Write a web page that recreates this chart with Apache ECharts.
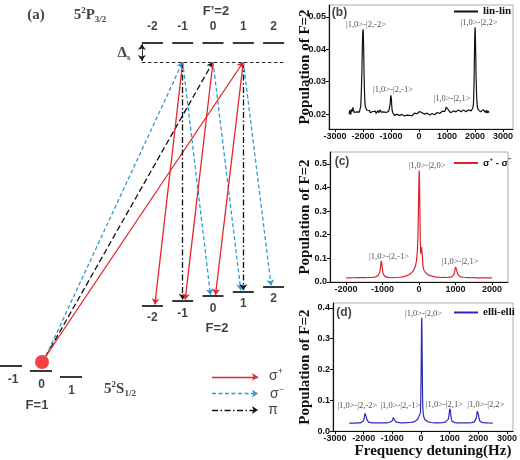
<!DOCTYPE html>
<html><head><meta charset="utf-8">
<script src="https://cdn.jsdelivr.net/npm/echarts@6/dist/echarts.min.js"></script>
<style>html,body{margin:0;padding:0;background:#fff}#c{width:520px;height:460px}</style>
</head><body><div id="c"></div>
<script>
// ---------------- DATA ----------------
// (b) lin-lin : [frequency detuning (Hz), population of F=2]
const linLin = [[-2500,0.0200],[-2470,0.0212],[-2440,0.0198],[-2410,0.0215],[-2380,0.0208],[-2360,0.0221],[-2340,0.0213],[-2310,0.0205],[-2280,0.0210],[-2250,0.0202],[-2220,0.0207],[-2190,0.0203],[-2160,0.0209],[-2130,0.0206],[-2100,0.0212],[-2080,0.0225],[-2060,0.0265],[-2040,0.0330],[-2025,0.0400],[-2012,0.0445],[-2000,0.0462],[-1990,0.0455],[-1978,0.0410],[-1965,0.0340],[-1950,0.0280],[-1935,0.0240],[-1915,0.0222],[-1890,0.0218],[-1860,0.0212],[-1830,0.0216],[-1800,0.0207],[-1770,0.0211],[-1740,0.0204],[-1710,0.0209],[-1680,0.0203],[-1650,0.0208],[-1620,0.0212],[-1590,0.0205],[-1560,0.0209],[-1530,0.0202],[-1500,0.0207],[-1470,0.0211],[-1440,0.0204],[-1410,0.0208],[-1380,0.0213],[-1350,0.0206],[-1320,0.0210],[-1290,0.0203],[-1260,0.0207],[-1230,0.0202],[-1200,0.0208],[-1170,0.0205],[-1140,0.0210],[-1110,0.0204],[-1080,0.0209],[-1055,0.0215],[-1035,0.0228],[-1020,0.0245],[-1008,0.0258],[-998,0.0262],[-988,0.0250],[-975,0.0228],[-960,0.0212],[-940,0.0205],[-910,0.0200],[-880,0.0196],[-850,0.0201],[-820,0.0195],[-790,0.0199],[-760,0.0194],[-730,0.0200],[-700,0.0196],[-670,0.0198],[-640,0.0193],[-610,0.0199],[-580,0.0195],[-550,0.0201],[-520,0.0194],[-490,0.0198],[-460,0.0192],[-430,0.0197],[-400,0.0195],[-370,0.0200],[-340,0.0196],[-310,0.0194],[-280,0.0199],[-250,0.0195],[-220,0.0200],[-190,0.0197],[-160,0.0203],[-130,0.0199],[-100,0.0205],[-70,0.0201],[-40,0.0207],[-10,0.0202],[20,0.0208],[50,0.0203],[80,0.0209],[110,0.0204],[140,0.0201],[170,0.0206],[200,0.0200],[230,0.0205],[260,0.0199],[290,0.0203],[320,0.0198],[350,0.0202],[380,0.0197],[410,0.0201],[440,0.0196],[470,0.0202],[500,0.0199],[530,0.0204],[560,0.0198],[590,0.0203],[620,0.0200],[650,0.0205],[680,0.0201],[710,0.0206],[740,0.0202],[770,0.0208],[800,0.0204],[830,0.0209],[860,0.0205],[890,0.0211],[920,0.0208],[950,0.0214],[975,0.0222],[995,0.0228],[1010,0.0226],[1030,0.0218],[1055,0.0212],[1080,0.0207],[1110,0.0210],[1140,0.0204],[1170,0.0209],[1200,0.0205],[1230,0.0210],[1260,0.0206],[1290,0.0211],[1320,0.0207],[1350,0.0212],[1380,0.0208],[1410,0.0213],[1440,0.0209],[1470,0.0211],[1500,0.0207],[1530,0.0212],[1560,0.0208],[1590,0.0213],[1620,0.0209],[1650,0.0211],[1680,0.0207],[1710,0.0212],[1740,0.0208],[1770,0.0213],[1800,0.0209],[1830,0.0212],[1860,0.0210],[1890,0.0214],[1920,0.0218],[1945,0.0232],[1965,0.0290],[1980,0.0380],[1992,0.0445],[2002,0.0468],[2012,0.0450],[2025,0.0390],[2040,0.0310],[2058,0.0255],[2080,0.0225],[2110,0.0214],[2140,0.0209],[2170,0.0213],[2200,0.0207],[2230,0.0212],[2260,0.0206],[2290,0.0214],[2320,0.0208],[2350,0.0215],[2380,0.0205],[2410,0.0212],[2440,0.0203],[2470,0.0210],[2500,0.0204]];

// (c) sigma+ - sigma-
const sigmaSigma = [[-2000,0.017],[-1950,0.018],[-1900,0.0175],[-1850,0.0185],[-1800,0.018],[-1750,0.017],[-1700,0.0185],[-1650,0.018],[-1600,0.019],[-1550,0.0175],[-1500,0.0185],[-1450,0.018],[-1400,0.019],[-1350,0.0185],[-1300,0.0195],[-1250,0.019],[-1200,0.021],[-1160,0.023],[-1120,0.027],[-1090,0.034],[-1070,0.045],[-1055,0.062],[-1045,0.080],[-1035,0.090],[-1025,0.086],[-1012,0.068],[-1000,0.050],[-985,0.036],[-965,0.028],[-940,0.024],[-900,0.021],[-850,0.0195],[-800,0.019],[-750,0.018],[-700,0.0175],[-650,0.019],[-600,0.0185],[-550,0.020],[-500,0.021],[-450,0.022],[-400,0.024],[-350,0.026],[-300,0.029],[-250,0.033],[-200,0.039],[-160,0.046],[-120,0.058],[-90,0.072],[-65,0.095],[-45,0.13],[-30,0.19],[-18,0.28],[-8,0.38],[0,0.45],[6,0.472],[12,0.45],[20,0.36],[28,0.25],[36,0.17],[44,0.13],[52,0.12],[60,0.13],[68,0.148],[76,0.152],[84,0.14],[92,0.11],[102,0.08],[115,0.062],[130,0.052],[150,0.045],[180,0.039],[220,0.033],[270,0.029],[320,0.026],[380,0.024],[440,0.022],[500,0.021],[560,0.020],[620,0.019],[680,0.0195],[740,0.019],[800,0.0195],[850,0.020],[900,0.022],[930,0.025],[955,0.031],[975,0.042],[990,0.055],[1003,0.064],[1015,0.066],[1028,0.058],[1042,0.045],[1060,0.034],[1085,0.027],[1120,0.023],[1170,0.021],[1220,0.020],[1280,0.019],[1350,0.0185],[1420,0.018],[1500,0.0185],[1580,0.0175],[1660,0.018],[1740,0.0175],[1820,0.018],[1900,0.0172],[1960,0.0178],[2000,0.017]];

// (d) elli-elli
const elliElli = [[-2500,0.026],[-2400,0.0262],[-2300,0.026],[-2200,0.0265],[-2100,0.027],[-2050,0.029],[-2010,0.033],[-1985,0.040],[-1968,0.050],[-1955,0.058],[-1942,0.061],[-1928,0.057],[-1910,0.047],[-1890,0.038],[-1865,0.032],[-1830,0.029],[-1780,0.0275],[-1700,0.027],[-1600,0.0265],[-1500,0.0265],[-1400,0.027],[-1300,0.0268],[-1200,0.027],[-1100,0.028],[-1040,0.030],[-1000,0.034],[-980,0.040],[-966,0.044],[-954,0.045],[-940,0.042],[-920,0.036],[-895,0.031],[-860,0.029],[-800,0.0275],[-700,0.027],[-600,0.027],[-500,0.0275],[-400,0.028],[-300,0.029],[-220,0.031],[-160,0.034],[-120,0.038],[-90,0.043],[-70,0.048],[-55,0.052],[-45,0.053],[-35,0.051],[-20,0.060],[-8,0.10],[2,0.17],[10,0.26],[18,0.34],[25,0.368],[32,0.345],[40,0.26],[48,0.17],[56,0.105],[66,0.072],[80,0.055],[100,0.045],[130,0.038],[180,0.033],[250,0.030],[350,0.028],[450,0.027],[550,0.027],[650,0.027],[750,0.0275],[850,0.029],[910,0.032],[950,0.038],[975,0.050],[992,0.064],[1005,0.073],[1015,0.074],[1027,0.066],[1042,0.051],[1060,0.039],[1085,0.032],[1120,0.029],[1180,0.0275],[1280,0.027],[1400,0.0265],[1520,0.0265],[1640,0.027],[1760,0.0275],[1850,0.029],[1900,0.033],[1930,0.042],[1950,0.055],[1965,0.065],[1978,0.068],[1992,0.064],[2008,0.052],[2028,0.040],[2055,0.032],[2090,0.029],[2150,0.0275],[2250,0.027],[2350,0.0265],[2450,0.0262],[2500,0.026]];

// peak annotations [x, y, text]
const peakLabelsB = [[-1893,0.0475,'|1,0>-|2,-2>'],[-929,0.0274,'|1,0>-|2,-1>'],[1178,0.0246,'|1,0>-|2,1>'],[2143,0.0481,'|1,0>-|2,2>']];
const peakLabelsC = [[219,0.492,'|1,0>-|2,0>'],[-822,0.106,'|1,0>-|2,-1>'],[1123,0.085,'|1,0>-|2,1>']];
const peakLabelsD = [[88,0.381,'|1,0>-|2,0>'],[-2220,0.081,'|1,0>-|2,-2>'],[-721,0.081,'|1,0>-|2,-1>'],[816,0.087,'|1,0>-|2,1>'],[2263,0.087,'|1,0>-|2,2>']];

// tick labels
const xTicksB = [-3000,-2000,-1000,0,1000,2000,3000];
const yTicksB = [0.02,0.03,0.04,0.05];
const xTicksC = [-2000,-1000,0,1000,2000];
const yTicksC = [0,0.1,0.2,0.3,0.4,0.5];
const xTicksD = [-3000,-2000,-1000,0,1000,2000,3000];
const yTicksD = [0,0.1,0.2,0.3,0.4];

// level diagram (a): magnetic sublevels and transitions
const upperM = [-2,-1,0,1,2];     // F'=2 of 5²P3/2
const lowerM = [-2,-1,0,1,2];     // F=2 of 5²S1/2
const groundM = [-1,0,1];         // F=1 of 5²S1/2
const excitedTargets = [-1,0,1];  // from |1,0> to m'
const decays = [[-1,-2],[-1,-1],[-1,0],[0,-1],[0,1],[1,0],[1,1],[1,2]]; // [m', m]
const legendPols = [1,-1,0];

// ---------------- LAYOUT / STYLE ----------------
const SERIF = '"Liberation Serif","Times New Roman",serif';
const SANS = '"Liberation Sans",Arial,sans-serif';
const L = {
  mx: m => 213 + 30.3*m, yUp: 43, yVirt: 62,
  yLow: m => 296 - 4.7*m, gx: m => 41 + 30*m, gy: m => 371 + 5.5*m,
  hw: 10.5, start: [46,356], dot: [42,362]
};
const RED = '#e3262c', BLUE = '#2e9bd6', BLK = '#111';
const pol = {
  '1': {color: RED, type: 'solid'},
  '-1': {color: BLUE, type: [4,2.5]},
  '0': {color: BLK, type: [6,2.5,1.5,2.5]}
};

const series = [];
function addLine(coords, style, arrow, width) {
  series.push({type:'lines', coordinateSystem:'cartesian2d', xAxisIndex:0, yAxisIndex:0,
    silent:true, z:5,
    symbol: arrow ? (arrow === 2 ? ['arrow','arrow'] : ['none','arrow']) : ['none','none'],
    symbolSize: 6,
    lineStyle:{color: style.color, type: style.type, width: width || 1.3, opacity:1},
    data:[{coords}]});
}
// levels
const levelSegs = [];
upperM.forEach(m => levelSegs.push([[L.mx(m)-L.hw, L.yUp],[L.mx(m)+L.hw, L.yUp]]));
lowerM.forEach(m => levelSegs.push([[L.mx(m)-L.hw, L.yLow(m)],[L.mx(m)+L.hw, L.yLow(m)]]));
groundM.forEach(m => levelSegs.push([[L.gx(m)-11, L.gy(m)],[L.gx(m)+11, L.gy(m)]]));
series.push({type:'lines', coordinateSystem:'cartesian2d', xAxisIndex:0, yAxisIndex:0, silent:true, z:4,
  lineStyle:{color:'#222', width:1.8, opacity:1}, data: levelSegs.map(c => ({coords:c}))});
// virtual level & Δs
addLine([[L.mx(-2)-L.hw, L.yVirt],[L.mx(2)+L.hw, L.yVirt]], {color:'#222', type:[3.5,2.5]}, 0, 1.2);
addLine([[L.mx(-2)-L.hw, L.yUp+1],[L.mx(-2)-L.hw, L.yVirt-1]], {color:'#222', type:'solid'}, 2, 0.9);
// excitation
excitedTargets.forEach(mp => {
  const st = mp === 0 ? {color:BLK, type:[6,3]} : pol[String(mp)];
  addLine([L.start, [L.mx(mp), L.yVirt]], st, 1, 1.3);
});
// decays
decays.forEach(([mp, m]) => {
  addLine([[L.mx(mp), L.yVirt], [L.mx(m) + 2.5*(mp-m), L.yLow(m)-1]], pol[String(mp-m)], 1, 1.3);
});
// legend arrows
legendPols.forEach((p, i) => {
  const y = 377 + 16.5*i;
  addLine([[212, y],[258, y]], pol[String(p)], 1, 1.4);
});
// red atom
series.push({type:'scatter', xAxisIndex:0, yAxisIndex:0, silent:true, z:6, symbolSize:14,
  itemStyle:{color:'#ee1111'}, data:[L.dot]});

// diagram texts
const rich = {
  b:{fontFamily:SERIF, fontWeight:'bold', fontSize:15, lineHeight:18, color:'#111'},
  bsup:{fontFamily:SERIF, fontWeight:'bold', fontSize:9, lineHeight:10, verticalAlign:'top', color:'#111'},
  bsub:{fontFamily:SERIF, fontWeight:'bold', fontSize:9, lineHeight:10, verticalAlign:'bottom', color:'#111'},
  s:{fontFamily:SANS, fontSize:14, lineHeight:18, color:'#111'},
  ssup:{fontFamily:SANS, fontSize:9, lineHeight:10, verticalAlign:'top', color:'#111'},
  n:{fontFamily:SANS, fontWeight:'bold', fontSize:12, lineHeight:14, color:'#111'},
  n13:{fontFamily:SANS, fontWeight:'bold', fontSize:13, lineHeight:15, color:'#111'}
};
const texts = [
  [36,15,'{b|(a)}'],
  [90,15,'{b|5}{bsup|2}{b|P}{bsub|3/2}'],
  [216,11,'{n13|F’=2}'],
  [124,53,'{b|Δ}{bsub|s}'],
  [217,328,'{n13|F=2}'],
  [37,405,'{n13|F=1}'],
  [120,389,'{b|5}{bsup|2}{b|S}{bsub|1/2}'],
  [276,376,'{s|σ}{ssup|+}'],
  [277,394,'{s|σ}{ssup|−}'],
  [273,410,'{s|π}'],
  [339.5,12.5,'{n|(b)}'],
  [342,162,'{n|(c)}'],
  [344,313,'{n|(d)}']
];
upperM.forEach(m => texts.push([L.mx(m), 27, '{n|' + m + '}']));
lowerM.forEach(m => texts.push([L.mx(m), L.yLow(m)+12.5, '{n|' + m + '}']));
groundM.forEach(m => texts.push([L.gx(m) + (m<0?2:0.5), L.gy(m)+14, '{n|' + m + '}']));
series.push({type:'scatter', xAxisIndex:0, yAxisIndex:0, silent:true, z:7, symbolSize:1,
  itemStyle:{color:'rgba(0,0,0,0)'},
  data: texts.map(t => ({value:[t[0],t[1]], name:t[2]})),
  label:{show:true, position:'inside', align:'center', verticalAlign:'middle',
    formatter: p => p.name, rich}});

// ---------------- PANELS ----------------
const grids = [
  {left:0, top:0, width:520, height:460, show:false},
  {left:329, top:5, width:184, height:124, show:true, borderColor:'#999', borderWidth:0.8, backgroundColor:'transparent'},
  {left:330, top:152, width:178, height:130, show:true, borderColor:'#999', borderWidth:0.8, backgroundColor:'transparent'},
  {left:333, top:303, width:181, height:129, show:true, borderColor:'#999', borderWidth:0.8, backgroundColor:'transparent'}
];
const xAxes = [{gridIndex:0, type:'value', min:0, max:520, show:false}];
const yAxes = [{gridIndex:0, type:'value', min:0, max:460, inverse:true, show:false}];
function panel(gi, xr, yr, xt, yt, dec, nameGap) {
  xAxes.push({gridIndex:gi, type:'value', min:xr[0], max:xr[1],
    axisLine:{onZero:false, lineStyle:{color:'#111', width:1.2}},
    axisTick:{customValues:xt, length:3, lineStyle:{color:'#111', width:1}},
    axisLabel:{customValues:xt, formatter:v => String(v), fontFamily:SANS, fontWeight:'bold', fontSize:9, color:'#111', margin:3},
    splitLine:{show:false}});
  yAxes.push({gridIndex:gi, type:'value', min:yr[0], max:yr[1],
    name:'Population of F=2', nameLocation:'middle', nameGap:nameGap, nameRotate:90, nameMoveOverlap:false,
    nameTextStyle:{fontFamily:SERIF, fontWeight:'bold', fontSize:15, color:'#111'},
    axisLine:{onZero:false, lineStyle:{color:'#111', width:1.2}},
    axisTick:{customValues:yt, length:3, lineStyle:{color:'#111', width:1}},
    axisLabel:{customValues:yt, formatter:v => v.toFixed(dec), fontFamily:SANS, fontWeight:'bold', fontSize:9, color:'#111', margin:3},
    splitLine:{show:false}});
}
panel(1, [-3214,3357], [0.0154,0.0537], xTicksB, yTicksB, 2, 16);
panel(2, [-2440,2440], [0,0.55], xTicksC, yTicksC, 1, 17);
panel(3, [-3070,3210], [0,0.416], xTicksD, yTicksD, 1, 20);
Object.assign(xAxes[3], {name:'Frequency detuning(Hz)', nameLocation:'middle', nameGap:9,
  nameTextStyle:{fontFamily:SERIF, fontWeight:'bold', fontSize:15, color:'#111', padding:[0,0,0,20]}});

const dataSeries = [
  ['lin-lin', linLin, BLK, 1, peakLabelsB],
  ['sigma', sigmaSigma, '#e0202a', 2, peakLabelsC],
  ['elli-elli', elliElli, '#2c2cb4', 3, peakLabelsD]
];
dataSeries.forEach(([name, data, color, gi, labels]) => {
  series.push({type:'line', name, xAxisIndex:gi, yAxisIndex:gi, data, symbol:'none', z:3,
    lineStyle:{color, width:1.2}, itemStyle:{color}});
  series.push({type:'scatter', xAxisIndex:gi, yAxisIndex:gi, symbolSize:1, silent:true, z:8,
    itemStyle:{color:'rgba(0,0,0,0)'},
    data: labels.map(p => ({value:[p[0],p[1]], name:p[2]})),
    label:{show:true, position:'inside', align:'center', verticalAlign:'middle',
      formatter:p => p.name, fontFamily:SERIF, fontSize:8.5, color:'#222'}});
});

function legendAt(name, top, fmt) {
  return {data:[name], left:449, top, itemWidth:24, itemHeight:14, itemGap:4, selectedMode:false,
    icon:'path://M0,0 L24,0 L24,2 L0,2 Z',
    formatter: fmt,
    textStyle:{fontFamily:SERIF, fontWeight:'bold', fontSize:11, color:'#111',
      rich:{s:{fontFamily:SANS, fontSize:9.5, color:'#111', lineHeight:14},
            p:{fontFamily:SANS, fontSize:6, color:'#111', lineHeight:7, verticalAlign:'top'}}}};
}
const legends = [
  legendAt('lin-lin', 1, n => n),
  legendAt('sigma', 151, () => '{s|σ}{p|+}{s| - σ}{p|−}'),
  legendAt('elli-elli', 302, n => n)
];

const chart = echarts.init(document.getElementById('c'), null, {renderer:'canvas'});
chart.setOption({animation:false, backgroundColor:'#fff', grid:grids, xAxis:xAxes, yAxis:yAxes, legend:legends, series});
</script></body></html>
